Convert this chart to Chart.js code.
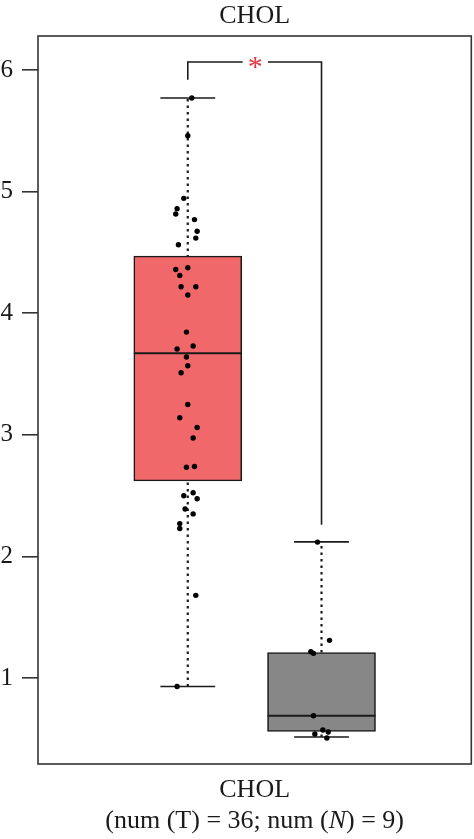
<!DOCTYPE html>
<html>
<head>
<meta charset="utf-8">
<style>
  html, body { margin: 0; padding: 0; background: #ffffff; }
  #wrap { width: 474px; height: 839px; position: relative; }
</style>
<script src="https://cdn.jsdelivr.net/npm/chart.js@4.4.1/dist/chart.umd.min.js"></script>
</head>
<body>
<div id="wrap"><canvas id="c" width="474" height="839"></canvas></div>
<script>
// ---------- data ----------
const categories = ['T', 'N'];
const groupX = [1, 2];
const boxColors = ['#F0686A', '#878787'];
const whiskerLow = [0.93, 0.515];
const q1Values = [2.62, 0.56];
const medianValues = [3.67, 0.69];
const q3Values = [4.47, 1.21];
const whiskerHigh = [5.77, 2.12];

// jittered sample points (value, horizontal jitter in group units)
const tValues = [5.77, 5.46, 4.945, 4.86, 4.816, 4.77, 4.674, 4.618, 4.563, 4.36, 4.374, 4.31,
                 4.218, 4.218, 4.15, 3.845, 3.73, 3.706, 3.64, 3.568, 3.51, 3.25, 3.14, 3.06,
                 2.974, 2.733, 2.74, 2.524, 2.499, 2.475, 2.39, 2.35, 2.27, 2.23, 1.68, 0.93];
const tJitter = [0.03, 0.00, -0.03, -0.08, -0.09, 0.05, 0.07, 0.06, -0.07, -0.09, 0.00, -0.06,
                 -0.05, 0.06, 0.00, -0.01, 0.04, -0.08, -0.01, 0.00, -0.05, 0.00, -0.06, 0.07,
                 0.04, -0.01, 0.05, 0.04, -0.03, 0.07, -0.02, 0.04, -0.06, -0.06, 0.06, -0.08];
const nValues = [2.118, 1.31, 1.216, 1.203, 0.69, 0.572, 0.556, 0.54, 0.507];
const nJitter = [-0.03, 0.06, -0.08, -0.06, -0.06, 0.01, 0.05, -0.05, 0.04];

const yTicks = [1, 2, 3, 4, 5, 6];
const yMin = 0.293, yMax = 6.28;
const xMin = -0.12, xMax = 3.12;

// significance bracket
const bracketY = 6.066;
const bracketLeftEnd = 5.92;
const bracketRightEnd = 2.26;
const bracketGap = [1.41, 1.60];
const sigLabel = '*';

const titleText = 'CHOL';
const xTitleLine1 = 'CHOL';
const xTitleParts = [['(num (T) = 36; num (', false], ['N', true], [') = 9)', false]];

// ---------- styles ----------
const INK = '#1a1a1a';
const SERIF = "'Liberation Serif', 'DejaVu Serif', serif";
const capHalf = 0.205;

// ---------- datasets ----------
function seg(points, extra) {
  return Object.assign({
    type: 'line',
    data: points.map(p => ({ x: p[0], y: p[1] })),
    borderColor: INK,
    borderWidth: 1.6,
    pointRadius: 0,
    pointHoverRadius: 0,
    fill: false,
    tension: 0,
    order: 2
  }, extra || {});
}

const datasets = [];

// boxes (floating bars)
datasets.push({
  type: 'bar',
  data: groupX.map((x, i) => ({ x: x, y: [q1Values[i], q3Values[i]] })),
  backgroundColor: boxColors,
  borderColor: INK,
  borderWidth: 1.6,
  borderSkipped: false,
  barThickness: 108,
  order: 3
});

groupX.forEach((x, i) => {
  // dotted whisker
  datasets.push(seg([[x, whiskerLow[i]], [x, whiskerHigh[i]]], { borderDash: [2.5, 4], borderWidth: 2.2, order: 4 }));
  // caps
  datasets.push(seg([[x - capHalf, whiskerLow[i]], [x + capHalf, whiskerLow[i]]]));
  datasets.push(seg([[x - capHalf, whiskerHigh[i]], [x + capHalf, whiskerHigh[i]]]));
  // median
  datasets.push(seg([[x - 0.403, medianValues[i]], [x + 0.403, medianValues[i]]], { borderWidth: 2, order: 1 }));
});

// bracket
datasets.push(seg([[groupX[0], bracketLeftEnd], [groupX[0], bracketY], [bracketGap[0], bracketY]]));
datasets.push(seg([[bracketGap[1], bracketY], [groupX[1], bracketY], [groupX[1], bracketRightEnd]]));

// points
function pts(vals, jit, gx) {
  return {
    type: 'line',
    showLine: false,
    data: vals.map((v, i) => ({ x: gx + jit[i], y: v })),
    pointRadius: 2.7,
    pointBackgroundColor: '#000',
    pointBorderWidth: 0,
    pointHoverRadius: 2.7,
    order: 0
  };
}
datasets.push(pts(tValues, tJitter, groupX[0]));
datasets.push(pts(nValues, nJitter, groupX[1]));

// ---------- plugins ----------
const TXT = 26;
const framePlugin = {
  id: 'frame',
  afterDatasetsDraw(chart) {
    const { ctx, chartArea: a, scales } = chart;
    ctx.save();
    ctx.strokeStyle = '#333';
    ctx.lineWidth = 1.6;
    ctx.strokeRect(a.left, a.top, a.right - a.left, a.bottom - a.top);

    // significance star
    const sx = scales.x.getPixelForValue((bracketGap[0] + bracketGap[1]) / 2);
    const sy = scales.y.getPixelForValue(bracketY);
    ctx.fillStyle = '#E5343B';
    ctx.font = '30px ' + SERIF;
    ctx.textAlign = 'center';
    ctx.textBaseline = 'alphabetic';
    ctx.fillText(sigLabel, sx, sy + 14);

    const cx = (a.left + a.right) / 2;
    ctx.fillStyle = INK;
    ctx.font = TXT + 'px ' + SERIF;
    // chart title, centred over the plotting region
    ctx.fillText(titleText, cx, a.top - 13);
    // x axis title (two lines, italic N)
    ctx.fillText(xTitleLine1, cx, 797);
    let total = 0;
    const widths = xTitleParts.map(p => {
      ctx.font = (p[1] ? 'italic ' : '') + TXT + 'px ' + SERIF;
      const w = ctx.measureText(p[0]).width;
      total += w;
      return w;
    });
    let x0 = cx - total / 2;
    ctx.textAlign = 'left';
    xTitleParts.forEach((p, i) => {
      ctx.font = (p[1] ? 'italic ' : '') + TXT + 'px ' + SERIF;
      ctx.fillText(p[0], x0, 828);
      x0 += widths[i];
    });
    ctx.restore();
  }
};

Chart.defaults.font.family = SERIF;
Chart.defaults.color = INK;

new Chart(document.getElementById('c'), {
  type: 'bar',
  data: { datasets: datasets },
  options: {
    responsive: false,
    animation: false,
    events: [],
    layout: { padding: { left: 0, right: 1, top: 36, bottom: 75 } },
    plugins: {
      legend: { display: false },
      tooltip: { enabled: false },
      title: { display: false }
    },
    scales: {
      x: {
        type: 'linear',
        min: xMin,
        max: xMax,
        offset: false,
        display: false
      },
      y: {
        type: 'linear',
        min: yMin,
        max: yMax,
        afterBuildTicks: s => { s.ticks = yTicks.map(v => ({ value: v })); },
        afterFit: s => { s.width = 38; },
        border: { display: false },
        grid: {
          drawOnChartArea: false,
          drawTicks: true,
          tickLength: 16,
          color: '#333',
          lineWidth: 1.6
        },
        ticks: {
          padding: 9,
          color: INK,
          font: { family: SERIF, size: 25 }
        }
      }
    }
  },
  plugins: [framePlugin]
});
</script>
</body>
</html>
